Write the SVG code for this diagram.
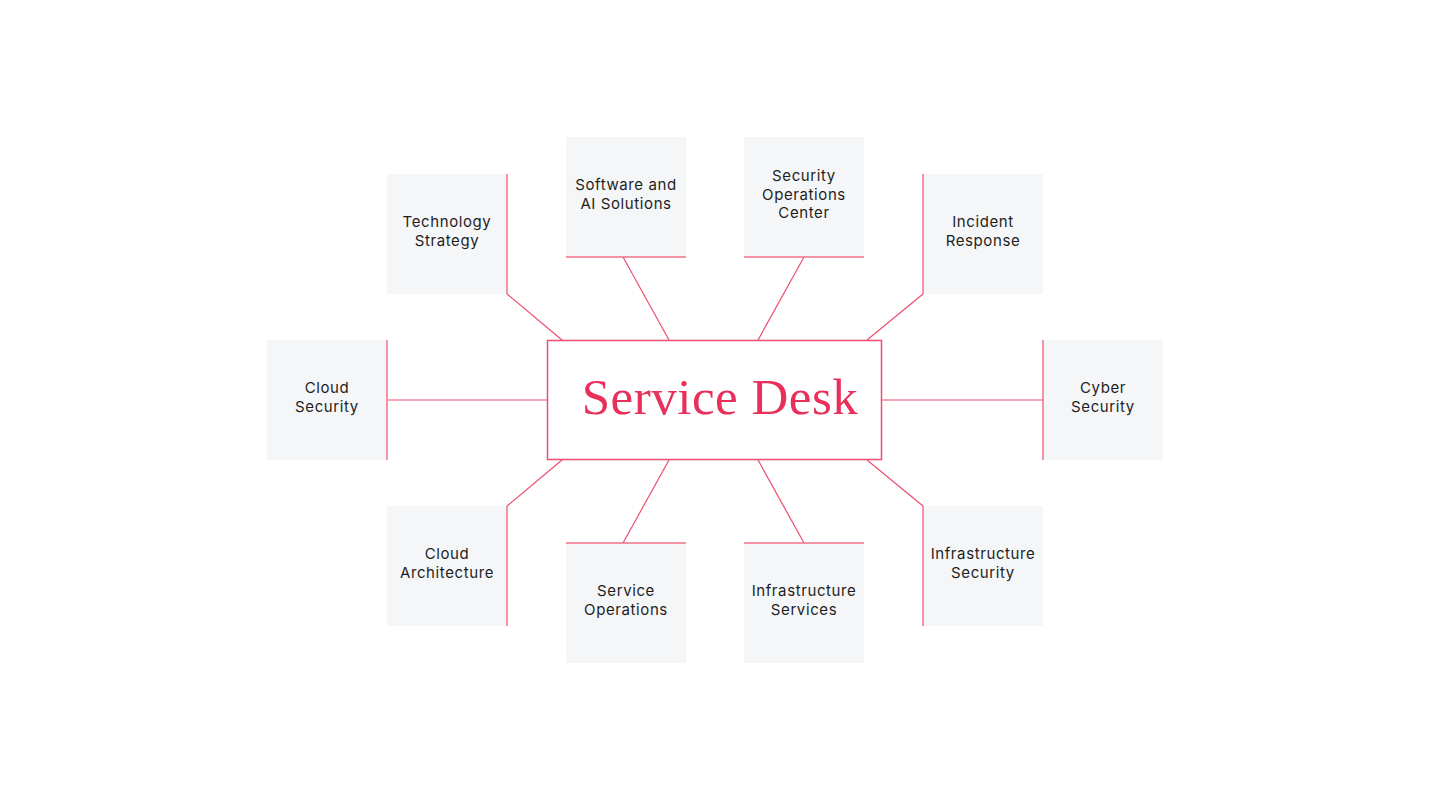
<svg xmlns="http://www.w3.org/2000/svg" width="1429" height="800" viewBox="0 0 1429 800">
<style>
.box{fill:#f5f6f8}
.edge{stroke:#f07088;stroke-width:1.5;fill:none}
.conn{stroke:#ee4e6e;stroke-width:1.2;fill:none}
.lbl{font-family:Inter,"Liberation Sans",sans-serif;font-size:15px;fill:#1e1e1e;text-anchor:middle;letter-spacing:0.6px}
.center{font-family:"Liberation Serif","DejaVu Serif",serif;font-size:51px;fill:#e8305a;text-anchor:middle;letter-spacing:0.5px}
</style>
<rect width="1429" height="800" fill="#ffffff"/>
<g id="connectors">
<path class="conn" d="M507,294 L562,340"/>
<path class="conn" d="M623,257 L669,340"/>
<path class="conn" d="M804,257 L758,340"/>
<path class="conn" d="M923,294 L867,340"/>
<path class="conn" d="M387,400 L547,400"/>
<path class="conn" d="M882,400 L1043,400"/>
<path class="conn" d="M507,506 L562,460"/>
<path class="conn" d="M623,543 L669,460"/>
<path class="conn" d="M804,543 L758,460"/>
<path class="conn" d="M923,506 L867,460"/>
</g>
<g id="center">
<rect x="547.5" y="340.5" width="334" height="119" fill="#fff" stroke="#ee4e6e" stroke-width="1.5"/>
<text class="center" x="720" y="414">Service Desk</text>
</g>
<g id="technology-strategy">
<rect class="box" x="387" y="174" width="120" height="120"/>
<path class="edge" d="M507,174 V294"/>
<text class="lbl" x="447" y="227">Technology</text>
<text class="lbl" x="447" y="246">Strategy</text>
</g>
<g id="software-ai">
<rect class="box" x="566" y="137" width="120" height="120"/>
<path class="edge" d="M566,257 H686"/>
<text class="lbl" x="626" y="190">Software and</text>
<text class="lbl" x="626" y="209">AI Solutions</text>
</g>
<g id="soc">
<rect class="box" x="744" y="137" width="120" height="120"/>
<path class="edge" d="M744,257 H864"/>
<text class="lbl" x="804" y="181">Security</text>
<text class="lbl" x="804" y="200">Operations</text>
<text class="lbl" x="804" y="218">Center</text>
</g>
<g id="incident-response">
<rect class="box" x="923" y="174" width="120" height="120"/>
<path class="edge" d="M923,174 V294"/>
<text class="lbl" x="983" y="227">Incident</text>
<text class="lbl" x="983" y="246">Response</text>
</g>
<g id="cloud-security">
<rect class="box" x="267" y="340" width="120" height="120"/>
<path class="edge" d="M387,340 V460"/>
<text class="lbl" x="327" y="393">Cloud</text>
<text class="lbl" x="327" y="412">Security</text>
</g>
<g id="cyber-security">
<rect class="box" x="1043" y="340" width="120" height="120"/>
<path class="edge" d="M1043,340 V460"/>
<text class="lbl" x="1103" y="393">Cyber</text>
<text class="lbl" x="1103" y="412">Security</text>
</g>
<g id="cloud-architecture">
<rect class="box" x="387" y="506" width="120" height="120"/>
<path class="edge" d="M507,506 V626"/>
<text class="lbl" x="447" y="559">Cloud</text>
<text class="lbl" x="447" y="578">Architecture</text>
</g>
<g id="service-operations">
<rect class="box" x="566" y="543" width="120" height="120"/>
<path class="edge" d="M566,543 H686"/>
<text class="lbl" x="626" y="596">Service</text>
<text class="lbl" x="626" y="615">Operations</text>
</g>
<g id="infrastructure-services">
<rect class="box" x="744" y="543" width="120" height="120"/>
<path class="edge" d="M744,543 H864"/>
<text class="lbl" x="804" y="596">Infrastructure</text>
<text class="lbl" x="804" y="615">Services</text>
</g>
<g id="infrastructure-security">
<rect class="box" x="923" y="506" width="120" height="120"/>
<path class="edge" d="M923,506 V626"/>
<text class="lbl" x="983" y="559">Infrastructure</text>
<text class="lbl" x="983" y="578">Security</text>
</g>
</svg>
